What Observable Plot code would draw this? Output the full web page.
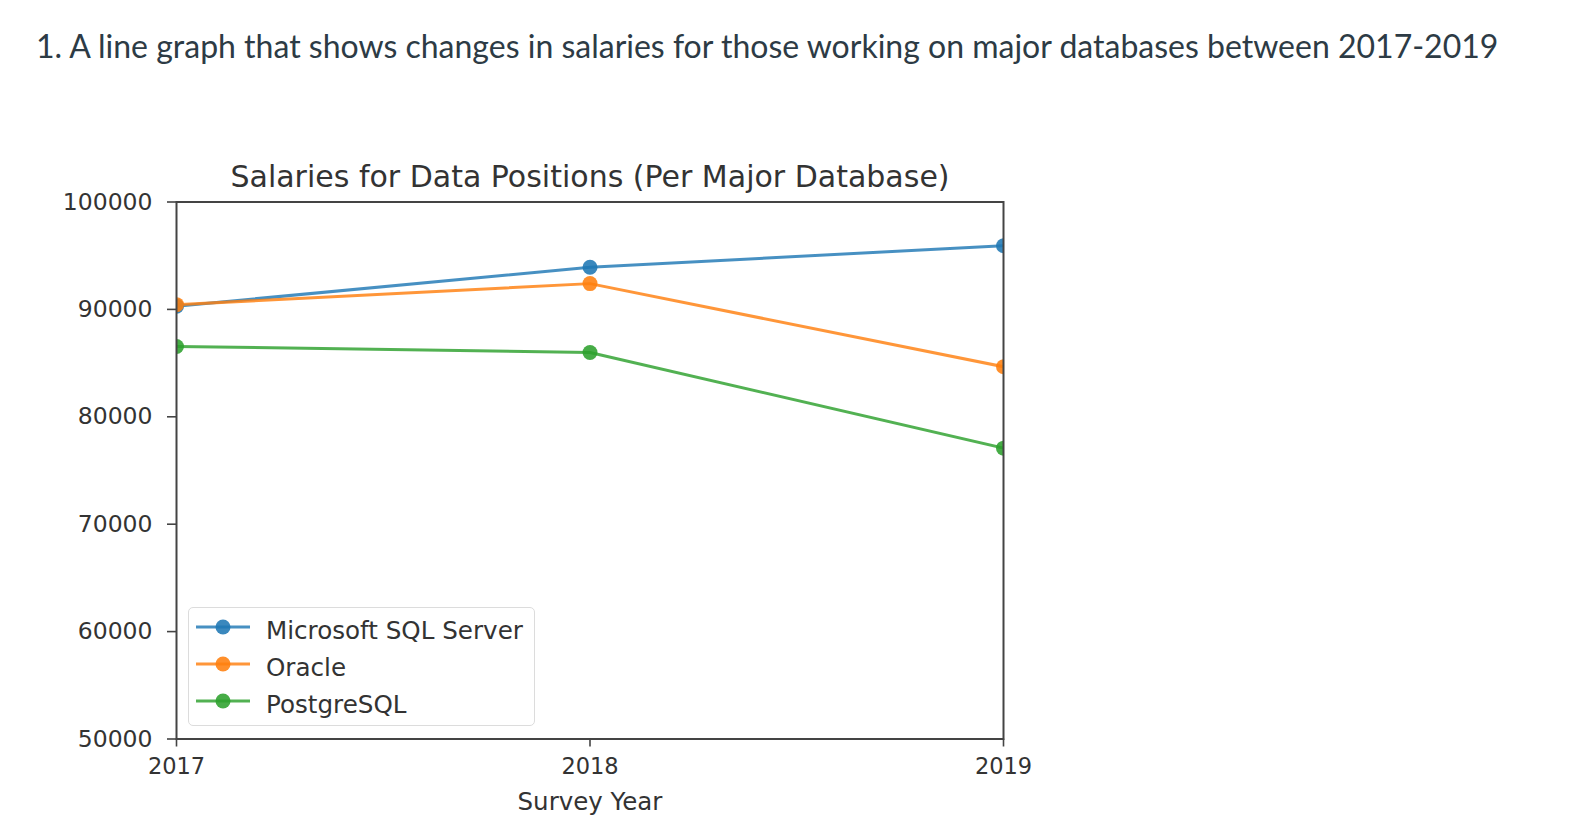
<!DOCTYPE html>
<html>
<head>
<meta charset="utf-8">
<script src="https://cdn.jsdelivr.net/npm/d3@7"></script>
<script src="https://cdn.jsdelivr.net/npm/@observablehq/plot@0.6"></script>
<style>
  html, body { margin: 0; padding: 0; background: #fff; width: 1596px; height: 838px; overflow: hidden; position: relative; }
  #heading { position: absolute; left: 36px; top: 27px; font-family: Lato, sans-serif; font-size: 32px; line-height: 1.2; color: #2d3b45; white-space: nowrap; }
  #chart { position: absolute; left: 0; top: 130px; }
  #legend { position: absolute; left: 188px; top: 607px; width: 347px; height: 119px; border: 1.5px solid #dcdcdc; border-radius: 5px; background: rgba(255,255,255,0.8); box-sizing: border-box; font-family: "DejaVu Sans", sans-serif; font-size: 24.6px; color: #333; }
  .row { position: absolute; left: 7px; height: 30px; display: flex; align-items: center; white-space: nowrap; }
  .row span { margin-left: 14px; position: relative; top: 3px; }
</style>
</head>
<body>
<div id="heading">1. A line graph that shows changes in salaries for those working on major databases between 2017-2019</div>
<div id="chart"></div>
<div id="legend"></div>
<script>
const years = [2017, 2018, 2019];
const seriesNames = ["Microsoft SQL Server", "Oracle", "PostgreSQL"];
const seriesColors = ["#1f77b4", "#ff7f0e", "#2ca02c"];
const mssql = [90300, 93930, 95930];
const oracle = [90440, 92400, 84660];
const postgres = [86550, 85990, 77080];
const yTicks = [50000, 60000, 70000, 80000, 90000, 100000];
const chartTitle = "Salaries for Data Positions (Per Major Database)";
const xLabel = "Survey Year";

const valuesBySeries = [mssql, oracle, postgres];
const rows = [];
seriesNames.forEach((name, i) => years.forEach((yr, j) => rows.push({series: name, year: yr, salary: valuesBySeries[i][j]})));

const plot = Plot.plot({
  width: 1100,
  height: 700,
  marginLeft: 176,
  marginRight: 97,
  marginTop: 71.5,
  marginBottom: 91.5,
  style: { fontFamily: "DejaVu Sans, sans-serif", color: "#333", background: "transparent" },
  x: { domain: [2017, 2019], ticks: years, tickFormat: d3.format("d") },
  y: { domain: [50000, 100000], ticks: yTicks, tickFormat: d3.format("d") },
  color: { domain: seriesNames, range: seriesColors },
  marks: [
    Plot.lineY(rows, { x: "year", y: "salary", stroke: "series", strokeWidth: 3, strokeOpacity: 0.82, clip: true }),
    Plot.dot(rows, { x: "year", y: "salary", fill: "series", r: 7.5, fillOpacity: 0.88, clip: true }),
    Plot.frame({ stroke: "#444", strokeWidth: 2 }),
    Plot.axisY({ ticks: yTicks, tickFormat: d3.format("d"), tickSize: 9, tickPadding: 15, fontSize: 23.5, label: null, stroke: "#444", strokeWidth: 1.6 }),
    Plot.axisX({ ticks: years, tickFormat: d3.format("d"), tickSize: 8, tickPadding: 11, fontSize: 22.5, label: xLabel, labelAnchor: "center", labelOffset: 71, labelArrow: "none", stroke: "#444", strokeWidth: 1.6 }),
    Plot.text([chartTitle], { frameAnchor: "top", lineAnchor: "middle", dy: -25, fontSize: 30, fill: "#333" })
  ]
});
document.getElementById("chart").appendChild(plot);
// axis label font size
d3.select(plot).selectAll("g[aria-label='x-axis label'] text").attr("font-size", 24.5);

const legend = d3.select("#legend");
seriesNames.forEach((name, i) => {
  const row = legend.append("div").attr("class", "row").style("top", (4 + i * 37) + "px");
  const svg = row.append("svg").attr("width", 56).attr("height", 20);
  svg.append("line").attr("x1", 0).attr("x2", 54).attr("y1", 10).attr("y2", 10).attr("stroke", seriesColors[i]).attr("stroke-width", 3).attr("stroke-opacity", 0.82);
  svg.append("circle").attr("cx", 27).attr("cy", 10).attr("r", 7.5).attr("fill", seriesColors[i]).attr("fill-opacity", 0.88);
  row.append("span").text(name);
});
</script>
</body>
</html>
